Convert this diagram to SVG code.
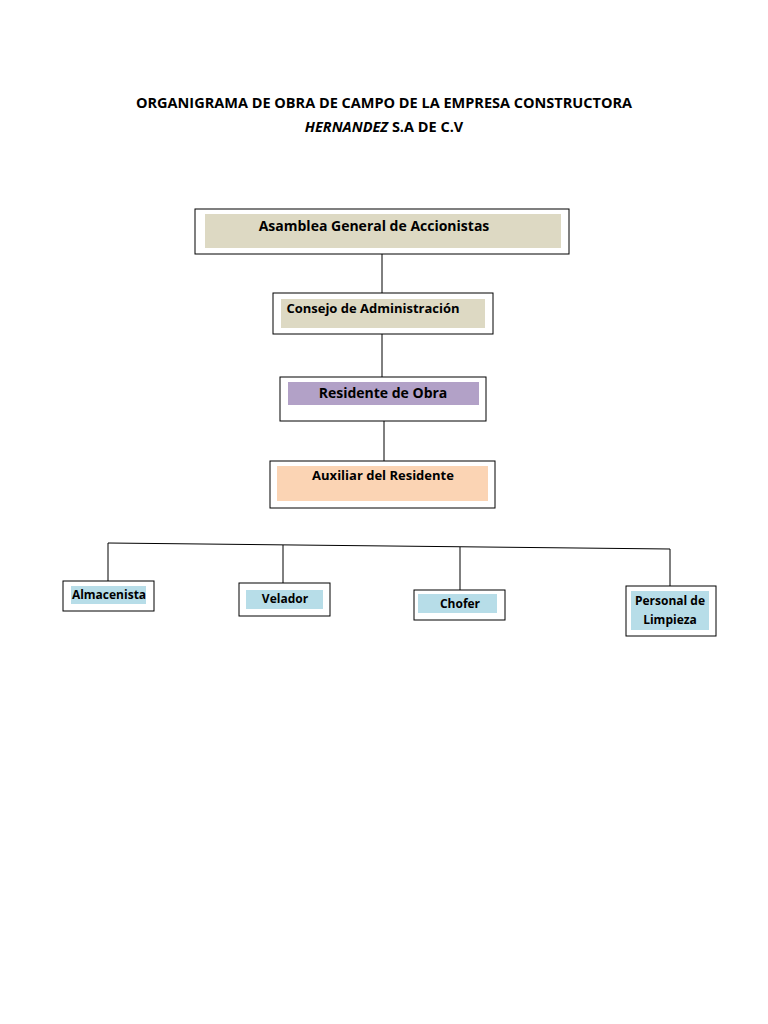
<svg xmlns="http://www.w3.org/2000/svg" width="768" height="1024" viewBox="0 0 768 1024">
<style>
text{font-family:"Open Sans","Liberation Sans",sans-serif;font-weight:bold;fill:#000}
.o{fill:#fff;stroke:#000;stroke-width:1}
.l{stroke:#000;stroke-width:1;fill:none}
.b{fill:#b7dde8}
.t{font-size:12px;text-anchor:middle}
</style>
<rect width="768" height="1024" fill="#fff"/>
<text x="384" y="108" font-size="14.5" text-anchor="middle">ORGANIGRAMA DE OBRA DE CAMPO DE LA EMPRESA CONSTRUCTORA</text>
<text x="384" y="132" font-size="14.5" text-anchor="middle"><tspan font-style="italic">HERNANDEZ</tspan> S.A DE C.V</text>
<g id="connectors">
<path class="l" d="M382 254V293M382 334V377M384 421V461M108 543L670 549M108 543V581M283 545V583M460 547V590M670 549V586"/>
</g>
<g id="asamblea"><rect class="o" x="195" y="209" width="374" height="45"/><rect x="205" y="214" width="356" height="34" fill="#ddd9c3"/><text x="374" y="231" font-size="14" text-anchor="middle">Asamblea General de Accionistas</text></g>
<g id="consejo"><rect class="o" x="273" y="293" width="220" height="41" stroke-width="2"/><rect x="281" y="299" width="204" height="29" fill="#ddd9c3"/><text x="373" y="313" font-size="13" text-anchor="middle" font-family="Liberation Sans">Consejo de Administración</text></g>
<g id="residente"><rect class="o" x="280" y="377" width="206" height="44"/><rect x="288" y="382" width="191" height="23" fill="#b2a1c7"/><text x="383" y="398" font-size="14" text-anchor="middle">Residente de Obra</text></g>
<g id="auxiliar"><rect class="o" x="270" y="461" width="225" height="47"/><rect x="277" y="466" width="211" height="35" fill="#fbd4b4"/><text x="383" y="480" font-size="13" text-anchor="middle" font-family="Liberation Sans">Auxiliar del Residente</text></g>
<g id="almacenista"><rect class="o" x="63" y="581" width="91" height="30"/><rect class="b" x="71" y="586" width="75" height="18"/><text class="t" x="109" y="599">Almacenista</text></g>
<g id="velador"><rect class="o" x="239" y="583" width="91" height="33"/><rect class="b" x="246" y="590" width="77" height="19"/><text class="t" x="285" y="603">Velador</text></g>
<g id="chofer"><rect class="o" x="414" y="590" width="91" height="30"/><rect class="b" x="418" y="594" width="79" height="19"/><text class="t" x="460" y="608">Chofer</text></g>
<g id="personal"><rect class="o" x="626" y="586" width="90" height="50"/><rect class="b" x="631" y="591" width="78" height="39"/><text class="t" x="670" y="605">Personal de</text><text class="t" x="670" y="624">Limpieza</text></g>
</svg>
